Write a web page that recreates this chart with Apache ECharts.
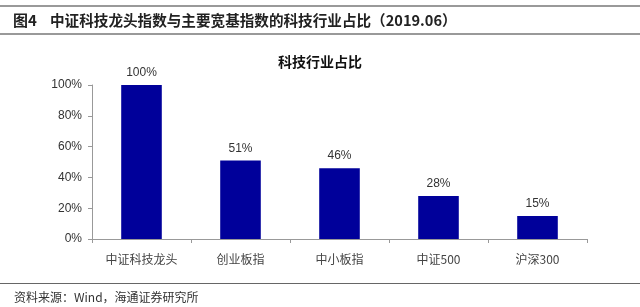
<!DOCTYPE html>
<html><head><meta charset="utf-8">
<script src="https://cdn.jsdelivr.net/npm/echarts@6/dist/echarts.min.js"></script>
<style>html,body{margin:0;padding:0;background:#fff}#c{width:640px;height:307px}</style>
</head><body><div id="c"></div>
<script>
var categories = ['中证科技龙头', '创业板指', '中小板指', '中证500', '沪深300'];
var values = [100, 51, 46, 28, 15];
var yTicks = [0, 20, 40, 60, 80, 100];
var figureNo = '图4';
var headerText = '中证科技龙头指数与主要宽基指数的科技行业占比（2019.06）';
var chartTitle = '科技行业占比';
var sourceText = '资料来源：Wind，海通证券研究所';

var chart = echarts.init(document.getElementById('c'));
var font = '"Noto Sans CJK SC", "Liberation Sans", sans-serif';
chart.setOption({
  animation: false,
  backgroundColor: '#fff',
  title: {text: chartTitle, left: 'center', top: 50, textStyle: {fontSize: 14, fontWeight: 'bold', color: '#111', fontFamily: font}},
  grid: {left: 92, right: 53, top: 85, bottom: 68},
  xAxis: {
    type: 'category', data: categories,
    axisLine: {lineStyle: {color: '#999'}},
    axisTick: {show: true, length: 4, lineStyle: {color: '#999'}},
    axisLabel: {color: '#444', fontSize: 12, margin: 14, fontFamily: font}
  },
  yAxis: {
    type: 'value', min: 0, max: 100, interval: 20,
    axisLine: {show: true, lineStyle: {color: '#999'}},
    axisTick: {show: true, length: 4, lineStyle: {color: '#999'}},
    splitLine: {show: false},
    axisLabel: {formatter: function(v){return yTicks.indexOf(v) >= 0 ? v + '%' : '';}, color: '#333', fontSize: 12, margin: 10, fontFamily: '"Liberation Sans", Arial, sans-serif'}
  },
  series: [{
    type: 'bar', data: values, barWidth: '41%',
    itemStyle: {color: '#00009A'},
    label: {show: true, position: 'top', formatter: '{c}%', color: '#333', fontSize: 12, distance: 6, fontFamily: '"Liberation Sans", Arial, sans-serif'}
  }],
  graphic: [
    {type: 'rect', shape: {x: 0, y: 5, width: 640, height: 2}, style: {fill: '#999'}},
    {type: 'text', left: 13, top: 13, style: {text: figureNo, font: 'bold 15px ' + font, fill: '#222'}},
    {type: 'text', left: 50, top: 13, style: {text: headerText, font: 'bold 14.6px ' + font, fill: '#222'}},
    {type: 'rect', shape: {x: 0, y: 33, width: 640, height: 2}, style: {fill: '#999'}},
    {type: 'rect', shape: {x: 0, y: 283, width: 640, height: 1}, style: {fill: '#666'}},
    {type: 'text', left: 14, top: 291, style: {text: sourceText, font: '12px ' + font, fill: '#333'}}
  ]
});
</script></body></html>
